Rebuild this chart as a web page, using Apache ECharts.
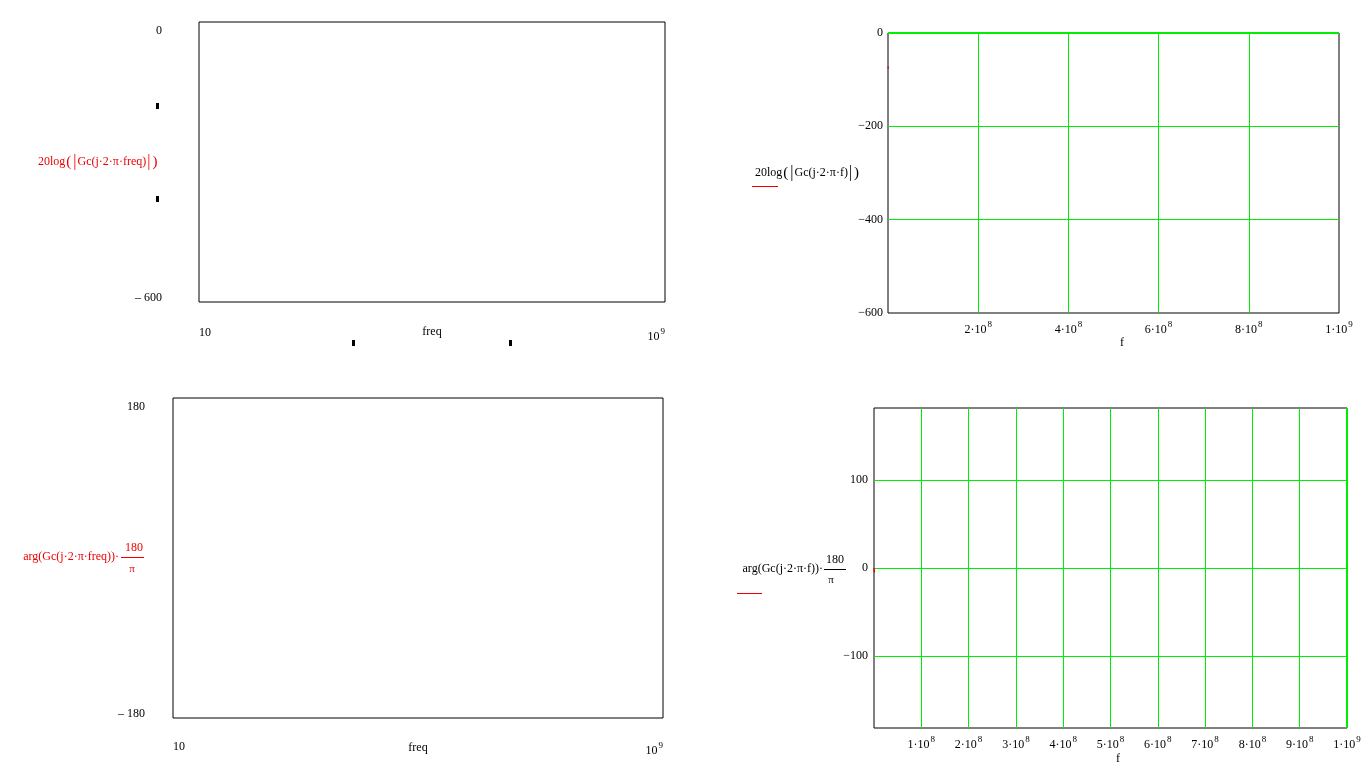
<!DOCTYPE html>
<html><head><meta charset="utf-8">
<script src="https://cdn.jsdelivr.net/npm/echarts@6/dist/echarts.min.js"></script>
<style>html,body{margin:0;background:#fff}#c{width:1369px;height:782px}</style>
</head><body><div id="c"></div>
<script>
// ---- data ----
const freqTrace = [0, 1e6];          // Hz, points visible at the left edge of the linear plots
const magTrace = [-72, -76];         // dB
const phaseTrace = [0, -5];          // degrees
// ---- axis ranges and tick labels ----
const logFreqRange = [10, 1e9];
const linFreqRange = [0, 1e9];
const magRange = [-600, 0];
const phaseRangeLog = [-180, 180];
const phaseRangeLin = [-182, 182];
const magTicksLin = [-600, -400, -200, 0];
const phaseTicksLin = [-100, 0, 100];
const freqTicksMag = [2e8, 4e8, 6e8, 8e8, 1e9];
const freqTicksPhase = [1e8, 2e8, 3e8, 4e8, 5e8, 6e8, 7e8, 8e8, 9e8, 1e9];

const FONT = 'Liberation Serif';
const GREEN = '#00ee00';
const RED = '#ee0000';
const rich = {
  b: {fontFamily: FONT, fontSize: 12, color: '#000', verticalAlign: 'bottom', lineHeight: 16},
  s: {fontFamily: FONT, fontSize: 9, color: '#000', verticalAlign: 'top', lineHeight: 9, padding: [0, 0, 0, 1]},
  t: {fontFamily: FONT, fontSize: 12, color: '#000', padding: [18, 0, 0, 0]},
  d: {fontFamily: FONT, fontSize: 12, color: '#000', padding: [0, 0, 8, 0]}
};
function sci(v) {
  const e = Math.floor(Math.log10(v) + 1e-9);
  const m = Math.round(v / Math.pow(10, e));
  return '{b|' + m + '·10}{s|' + e + '}';
}
function minusFmt(v) { return v < 0 ? '\u2212' + Math.abs(v) : String(v); }
const lblBase = {fontFamily: FONT, fontSize: 12, color: '#000', rich: rich};
function titleRich(color) {
  return {
    n: {fontFamily: FONT, fontSize: 12, fill: color, verticalAlign: 'middle'},
    p: {fontFamily: FONT, fontSize: 15, fill: color, verticalAlign: 'middle', padding: [0, 1, 0, 1]},
    v: {fontFamily: FONT, fontSize: 16, fill: color, verticalAlign: 'middle', padding: [0, 1, 0, 1]}
  };
}
const edgeLine = {symbol: 'none', silent: true, label: {show: false}, z: 10,
  lineStyle: {color: GREEN, width: 2, type: 'solid', opacity: 1}, emphasis: {disabled: true}};

const chart = echarts.init(document.getElementById('c'));
chart.setOption({
  backgroundColor: '#fff',
  animation: false,
  grid: [
    {left: 199, top: 22, width: 466, height: 280, show: true, borderColor: '#000', borderWidth: 1, z: -1},
    {left: 888, top: 33, width: 451, height: 280, show: true, borderColor: '#000', borderWidth: 1, z: -1},
    {left: 173, top: 398, width: 490, height: 320, show: true, borderColor: '#000', borderWidth: 1, z: -1},
    {left: 874, top: 408, width: 473, height: 320, show: true, borderColor: '#000', borderWidth: 1, z: -1}
  ],
  xAxis: [
    {gridIndex: 0, type: 'log', logBase: 10, min: logFreqRange[0], max: logFreqRange[1],
     axisLine: {show: false}, axisTick: {show: false}, splitLine: {show: false},
     axisLabel: Object.assign({}, lblBase, {margin: 25, alignMinLabel: 'left', alignMaxLabel: 'right',
       formatter: v => v === logFreqRange[0] ? '10' : (v === logFreqRange[1] ? '{b|10}{s|9}' : '')}),
     name: 'freq', nameLocation: 'middle', nameGap: 24, nameMoveOverlap: false,
     nameTextStyle: {fontFamily: FONT, fontSize: 12, color: '#000'}},
    {gridIndex: 1, type: 'value', min: linFreqRange[0], max: linFreqRange[1], interval: 2e8,
     axisLine: {show: false}, axisTick: {show: false},
     splitLine: {show: true, showMinLine: false, showMaxLine: false, lineStyle: {color: GREEN, width: 1}},
     axisLabel: Object.assign({}, lblBase, {margin: 7, customValues: freqTicksMag, formatter: sci}),
     name: 'f', nameLocation: 'middle', nameGap: 24, nameMoveOverlap: false,
     nameTextStyle: {fontFamily: FONT, fontSize: 12, color: '#000', padding: [0, 0, 0, 17]}},
    {gridIndex: 2, type: 'log', logBase: 10, min: logFreqRange[0], max: logFreqRange[1],
     axisLine: {show: false}, axisTick: {show: false}, splitLine: {show: false},
     axisLabel: Object.assign({}, lblBase, {margin: 23, alignMinLabel: 'left', alignMaxLabel: 'right',
       formatter: v => v === logFreqRange[0] ? '10' : (v === logFreqRange[1] ? '{b|10}{s|9}' : '')}),
     name: 'freq', nameLocation: 'middle', nameGap: 24, nameMoveOverlap: false,
     nameTextStyle: {fontFamily: FONT, fontSize: 12, color: '#000', padding: [0, 0, 0, 0]}},
    {gridIndex: 3, type: 'value', min: linFreqRange[0], max: linFreqRange[1], interval: 1e8,
     axisLine: {show: false}, axisTick: {show: false},
     splitLine: {show: true, showMinLine: false, showMaxLine: true, lineStyle: {color: GREEN, width: 1}},
     axisLabel: Object.assign({}, lblBase, {margin: 7, customValues: freqTicksPhase, formatter: sci}),
     name: 'f', nameLocation: 'middle', nameGap: 25, nameMoveOverlap: false,
     nameTextStyle: {fontFamily: FONT, fontSize: 12, color: '#000', padding: [0, 0, 0, 15]}}
  ],
  yAxis: [
    {gridIndex: 0, type: 'value', min: magRange[0], max: magRange[1], interval: 600,
     axisLine: {show: false}, axisTick: {show: false}, splitLine: {show: false},
     axisLabel: Object.assign({}, lblBase, {margin: 37,
       formatter: v => v === magRange[1] ? '{t|0}' : (v === magRange[0] ? '{d|– 600}' : '')})},
    {gridIndex: 1, type: 'value', min: magRange[0], max: magRange[1], interval: 200,
     axisLine: {show: false}, axisTick: {show: false},
     splitLine: {show: true, showMinLine: false, showMaxLine: true, lineStyle: {color: GREEN, width: 1}},
     axisLabel: Object.assign({}, lblBase, {margin: 5, customValues: magTicksLin, formatter: minusFmt})},
    {gridIndex: 2, type: 'value', min: phaseRangeLog[0], max: phaseRangeLog[1], interval: 360,
     axisLine: {show: false}, axisTick: {show: false}, splitLine: {show: false},
     axisLabel: Object.assign({}, lblBase, {margin: 28,
       formatter: v => v === phaseRangeLog[1] ? '{t|180}' : (v === phaseRangeLog[0] ? '{d|– 180}' : '')})},
    {gridIndex: 3, type: 'value', min: phaseRangeLin[0], max: phaseRangeLin[1],
     axisLine: {show: false},
     axisTick: {show: false, customValues: phaseTicksLin},
     splitLine: {show: true, showMinLine: true, showMaxLine: true, lineStyle: {color: GREEN, width: 1}},
     axisLabel: Object.assign({}, lblBase, {margin: 6, customValues: phaseTicksLin, formatter: minusFmt})}
  ],
  series: [
    {type: 'line', xAxisIndex: 1, yAxisIndex: 1, data: freqTrace.map((f, i) => [f, magTrace[i]]),
     showSymbol: false, lineStyle: {color: RED, width: 1.5}, silent: true, clip: false,
     markLine: Object.assign({data: [{yAxis: magRange[1]}]}, edgeLine)},
    {type: 'line', xAxisIndex: 3, yAxisIndex: 3, data: freqTrace.map((f, i) => [f, phaseTrace[i]]),
     showSymbol: false, lineStyle: {color: RED, width: 1.5}, silent: true, clip: false,
     markLine: Object.assign({data: [{xAxis: linFreqRange[1]}]}, edgeLine)}
  ],
  graphic: [
    // y-axis titles
    {type: 'text', x: 38, y: 162, style: {text: '{n|20log}{p|(}{v||}{n|Gc(j·2·π·freq)}{v||}{p|)}', rich: titleRich(RED), fill: RED, align: 'left', verticalAlign: 'middle'}},
    {type: 'text', x: 119, y: 557, style: {text: 'arg(Gc(j·2·π·freq))·', fill: RED, font: '12px "Liberation Serif"', align: 'right', verticalAlign: 'middle'}},
    {type: 'text', x: 134, y: 548, style: {text: '180', fill: RED, font: '12px "Liberation Serif"', align: 'center', verticalAlign: 'middle'}},
    {type: 'line', shape: {x1: 121, y1: 557.5, x2: 144, y2: 557.5}, style: {stroke: RED, lineWidth: 1}},
    {type: 'text', x: 132, y: 569, style: {text: 'π', fill: RED, font: '11px "Liberation Serif"', align: 'center', verticalAlign: 'middle'}},

    {type: 'text', x: 755, y: 173, style: {text: '{n|20log}{p|(}{v||}{n|Gc(j·2·π·f)}{v||}{p|)}', rich: titleRich('#000'), fill: '#000', align: 'left', verticalAlign: 'middle'}},
    {type: 'line', shape: {x1: 752, y1: 186.5, x2: 778, y2: 186.5}, style: {stroke: RED, lineWidth: 1}},

    {type: 'text', x: 823, y: 569, style: {text: 'arg(Gc(j·2·π·f))·', fill: '#000', font: '12px "Liberation Serif"', align: 'right', verticalAlign: 'middle'}},
    {type: 'text', x: 835, y: 560, style: {text: '180', fill: '#000', font: '12px "Liberation Serif"', align: 'center', verticalAlign: 'middle'}},
    {type: 'line', shape: {x1: 824, y1: 569.5, x2: 846, y2: 569.5}, style: {stroke: '#000', lineWidth: 1}},
    {type: 'text', x: 831, y: 580, style: {text: 'π', fill: '#000', font: '11px "Liberation Serif"', align: 'center', verticalAlign: 'middle'}},
    {type: 'line', shape: {x1: 737, y1: 593.5, x2: 762, y2: 593.5}, style: {stroke: RED, lineWidth: 1}},

    // small black marks left over in the first plot
    {type: 'rect', shape: {x: 156, y: 103, width: 3, height: 6}, style: {fill: '#000'}},
    {type: 'rect', shape: {x: 156, y: 196, width: 3, height: 6}, style: {fill: '#000'}},
    {type: 'rect', shape: {x: 352, y: 340, width: 3, height: 6}, style: {fill: '#000'}},
    {type: 'rect', shape: {x: 509, y: 340, width: 3, height: 6}, style: {fill: '#000'}}
  ]
});
</script>
</body></html>
